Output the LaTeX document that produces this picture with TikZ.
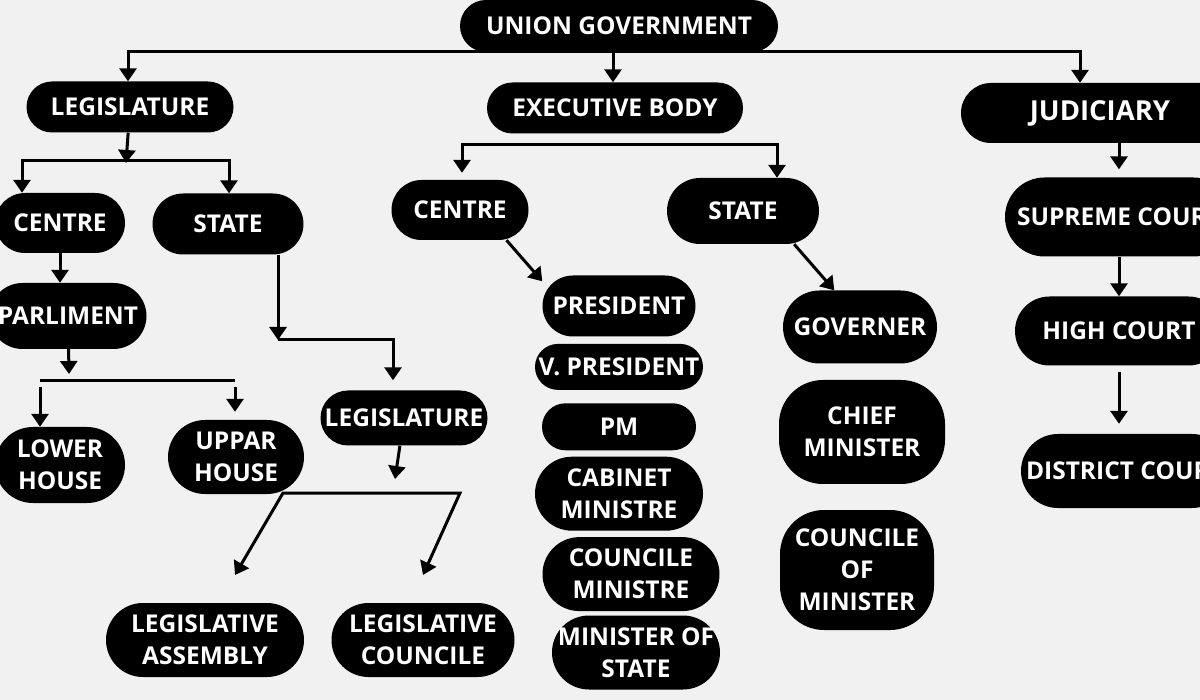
\documentclass[tikz,border=0pt]{standalone}
\usepackage{fontspec}
\setmainfont{Open Sans}
\usetikzlibrary{positioning,arrows.meta}

\definecolor{paper}{RGB}{241,241,241}

\begin{document}
\begin{tikzpicture}[
    x=1pt, y=-1pt,
    font=\fontsize{24.5}{32}\selectfont\bfseries,
    pill/.style args={#1x#2}{rectangle, fill=black, text=white, align=center, inner sep=0pt,
        minimum width=#1pt, minimum height=#2pt, rounded corners={#2*0.5pt}},
    blob/.style args={#1x#2}{rectangle, fill=black, text=white, align=center, inner sep=0pt,
        minimum width=#1pt, minimum height=#2pt, rounded corners=44pt},
    arr/.style={-{Triangle[width=17pt,length=13pt]}, line width=3pt},
    arrs/.style={{Triangle[width=17pt,length=13pt]}-{Triangle[width=17pt,length=13pt]}, line width=3pt},
    bar/.style={line width=3pt}
]

% Background
\useasboundingbox (0,0) rectangle (1200,700);
\fill[paper] (0,0) rectangle (1200,700);
\clip (0,0) rectangle (1200,700);

% Top: Union Government and its three bodies
\node (union) [pill=318x52] at (619,26) {UNION GOVERNMENT};
\node (leg) [pill=207x51] at (130,107) {LEGISLATURE};
\node (exec) [pill=256x51] at (615,108) {EXECUTIVE BODY};
\node (jud) [pill=278x60, font=\fontsize{27.5}{32}\selectfont\bfseries] at (1100,113) {JUDICIARY};

\coordinate (topL) at (128,52);
\coordinate (topM) at (613,52);
\coordinate (topR) at (1080,52);
\draw[arrs] (topL |- leg.north) -- (topL) -- (topR) -- (topR |- jud.north);
\draw[arr] (topM) -- (topM |- exec.north);

% Legislature: centre and state
\node (lcen) [pill=130x60] at (60,223) {CENTRE};
\node (lsta) [pill=151x61] at (228,224) {STATE};

\coordinate (legfork) at (126,163);
\coordinate (legbarL) at (22,161);
\coordinate (legbarR) at (229,161);
\draw[arr] (leg) -- (legfork);
\draw[arrs] (legbarL |- lcen.north) -- (legbarL) -- (legbarR) -- (legbarR |- lsta.north);

% Centre: parliament and its houses
\node (parl) [pill=157x66] at (68,316) {PARLIMENT};
\node (lower) [pill=130x76] at (60,465) {LOWER\\HOUSE};
\node (uppar) [pill=136x74] at (236,457) {UPPAR\\HOUSE};

\draw[arr] (lcen.south) -- (lcen.south |- parl.north);

\coordinate (parlfork) at (69,374);
\coordinate (parlbarL) at (40,381);
\coordinate (parlbarR) at (235,381);
\coordinate (lowtop) at (40,387);
\coordinate (upptop) at (235,387);
\draw[arr] (parl) -- (parlfork);
\draw[bar] (parlbarL) -- (parlbarR);
\draw[arr] (lowtop) -- (lowtop |- lower.north);
\draw[arr, shorten >=8pt] (upptop) -- (upptop |- uppar.north);

% State: legislature and its houses
\node (leg2) [pill=167x55] at (404,418) {LEGISLATURE};
\node (assembly) [pill=198x74] at (205,640) {LEGISLATIVE\\ASSEMBLY};
\node (council) [pill=183x74] at (423,640) {LEGISLATIVE\\COUNCILE};

\coordinate (stadown) at (278,340);
\coordinate (staright) at (393,340);
\draw[arr] (lsta.south -| stadown) -- (stadown);
\draw[arr, shorten >=10pt] (stadown) -- (staright) -- (staright |- leg2.north);

\coordinate (leg2fork) at (395,479);
\coordinate (leg2barL) at (283,493);
\coordinate (leg2barR) at (460,493);
\coordinate (asmtip) at (235,575);
\coordinate (cnltip) at (423,575);
\draw[arr] (leg2) -- (leg2fork);
\draw[arrs] (asmtip) -- (leg2barL) -- (leg2barR) -- (cnltip);

% Executive: centre and state
\node (ecen) [pill=137x60] at (460,210) {CENTRE};
\node (esta) [pill=152x66] at (743,211) {STATE};

\coordinate (exbarL) at (462,145);
\coordinate (exbarR) at (777,145);
\draw[arrs, shorten <=7pt] (exbarL |- ecen.north) -- (exbarL) -- (exbarR) -- (exbarR |- esta.north);

% Centre column
\node (pres) [pill=153x61] at (619,306) {PRESIDENT};
\node (vp) [pill=168x46, below=7pt of pres] {V. PRESIDENT};
\node (pm) [pill=154x47, below=13pt of vp] {PM};
\node (cabinet) [pill=168x74, below=6pt of pm] {CABINET\\MINISTRE};
\node (cmin) [pill=177x74, below=6pt of cabinet, xshift=12pt] {COUNCILE\\MINISTRE};
\node (mos) [pill=168x74, below=4pt of cmin, xshift=5pt] {MINISTER OF\\STATE};

\draw[arr] (ecen.-33) -- ([yshift=-6pt]pres.north west);

% State column
\node (governer) [pill=154x73] at (860,327) {GOVERNER};
\node (chief) [blob=166x104] at (862,432) {CHIEF\\MINISTER};
\node (scouncil) [blob=154x120] at (857,570) {COUNCILE\\OF\\MINISTER};

\draw[arr] (esta.-33) -- (governer.125);

% Judiciary column
\node (supreme) [pill=228x79] at (1119,217) {SUPREME COURT};
\node (high) [pill=208x69] at (1119,331) {HIGH COURT};
\node (district) [pill=208x74] at (1125,471) {DISTRICT COURT};

\draw[arr, shorten >=8pt] (jud.south -| supreme) -- (supreme);
\draw[arr] (supreme) -- (high);
\draw[arr, shorten <=6pt, shorten >=10pt] (high.south) -- (high.south |- district.north);

\end{tikzpicture}
\end{document}
